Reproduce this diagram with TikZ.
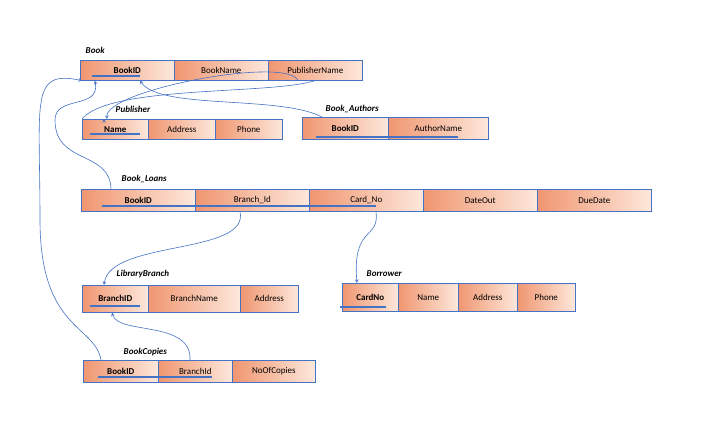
\documentclass[tikz,border=0pt]{standalone}
\usepackage{fontspec}
\setmainfont{Carlito}
\definecolor{erblue}{RGB}{68,114,196}
\definecolor{erdark}{RGB}{240,150,112}
\definecolor{erlight}{RGB}{253,232,220}
\begin{document}
\begin{tikzpicture}[x=1pt,y=-1pt,thick,
  cell/.style={draw=erblue, semithick, left color=erdark, right color=erlight,
    anchor=north west, inner sep=0pt, font=\fontsize{9}{10}\selectfont},
  key/.style={cell, font=\fontsize{9}{10}\selectfont\bfseries},
  title/.style={anchor=west, font=\fontsize{9}{10}\selectfont\bfseries\itshape},
  uline/.style={erblue, line width=1.4pt},
  link/.style={erblue, semithick, ->, >=stealth}]
\useasboundingbox (0,0) rectangle (702,443);
% Book
\node[title] (tbook) at (82,50) {Book};
\node[key, minimum width=94, minimum height=20] (bookid) at (80,60) {BookID};
\node[cell, minimum width=94, minimum height=20] (bookname) at (174,60) {BookName};
\node[cell, minimum width=94, minimum height=20] (pubname) at (268,60) {PublisherName};
\draw[uline] (92,76) -- (140,76);
% Publisher
\node[title] (tpub) at (112,109) {Publisher};
\node[key, minimum width=66, minimum height=20] (name) at (82,119) {Name};
\node[cell, minimum width=67, minimum height=20] (paddr) at (148,119) {Address};
\node[cell, minimum width=67, minimum height=20] (pphone) at (215,119) {Phone};
\draw[uline] (90,134) -- (140,134);
% Book_Authors
\node[title] (tauth) at (322,109) {Book\_Authors};
\node[key, minimum width=86, minimum height=22] (abookid) at (302,117) {BookID};
\node[cell, minimum width=100, minimum height=22] (aname) at (388,117) {AuthorName};
\draw[uline] (316,137) -- (458,137);
% Book_Loans
\node[title] (tloan) at (118,179) {Book\_Loans};
\node[key, minimum width=114, minimum height=22] (lbookid) at (81,189) {BookID};
\node[cell, minimum width=114, minimum height=22] (lbranch) at (195,189) {Branch\_Id};
\node[cell, minimum width=114, minimum height=22] (lcard) at (309,189) {Card\_No};
\node[cell, minimum width=114, minimum height=22] (ldout) at (423,189) {DateOut};
\node[cell, minimum width=114, minimum height=22] (lddue) at (537,189) {DueDate};
\draw[uline] (102,206) -- (376,206);
% LibraryBranch
\node[title] (tlib) at (113,274) {LibraryBranch};
\node[key, minimum width=66, minimum height=27] (branchid) at (82,285) {BranchID};
\node[cell, minimum width=92, minimum height=27] (bname) at (148,285) {BranchName};
\node[cell, minimum width=58, minimum height=27] (baddr) at (240,285) {Address};
\draw[uline] (90,306) -- (140,306);
% Borrower
\node[title] (tborr) at (363,274) {Borrower};
\node[key, minimum width=56, minimum height=28] (cardno) at (342,283) {CardNo};
\node[cell, minimum width=60, minimum height=28] (bwname) at (398,283) {Name};
\node[cell, minimum width=59, minimum height=28] (bwaddr) at (458,283) {Address};
\node[cell, minimum width=58, minimum height=28] (bwphone) at (517,283) {Phone};
\draw[uline] (340,307) -- (386,307);
% BookCopies
\node[title] (tcop) at (120,352) {BookCopies};
\node[key, minimum width=75, minimum height=22] (cbookid) at (83,360) {BookID};
\node[cell, minimum width=74, minimum height=22] (cbranch) at (158,360) {BranchId};
\node[cell, minimum width=83, minimum height=22] (ccopies) at (232,360) {NoOfCopies};
\draw[uline] (98,377) -- (212,377);
% references
\draw[link] (pubname.south) .. controls (270,95) and (110,85) .. (name.north west) ++(22,0);
\draw[link] ([xshift=30]pubname.south west) .. controls ([xshift=20,yshift=25]pubname.south west) and (105,90) .. ([xshift=25]name.north west);
\draw[link] ([xshift=20]abookid.north west) .. controls (280,95) and (160,110) .. ([xshift=60]bookid.south west);
\draw[link] ([xshift=30]lbookid.north west) .. controls (110,150) and (55,165) .. (55,120) .. controls (55,95) and (100,110) .. ([xshift=15]bookid.south west);
\draw[link] ([xshift=18]cbookid.north west) .. controls (95,325) and (40,330) .. (40,220) .. controls (40,100) and (30,70) .. ([xshift=2]bookid.south west);
\draw[link] ([xshift=45]lbranch.south west) .. controls (250,255) and (110,240) .. ([xshift=22]branchid.north west);
\draw[link] ([xshift=67]lcard.south west) .. controls (380,240) and (352,225) .. ([xshift=15]cardno.north west);
\draw[link] ([xshift=32]cbranch.north west) .. controls (192,320) and (118,335) .. ([xshift=30]branchid.south west);
\end{tikzpicture}
\end{document}
